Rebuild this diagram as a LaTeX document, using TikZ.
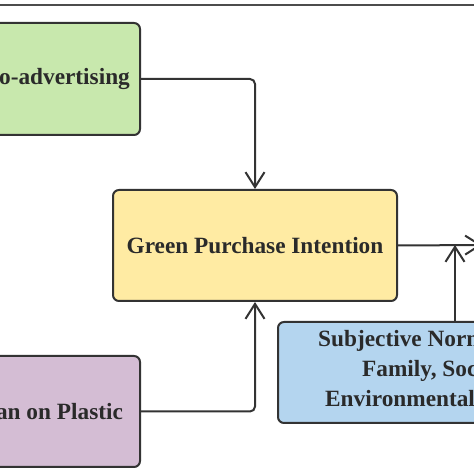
\documentclass[tikz,border=0pt]{standalone}
\usepackage{fontspec}
\setmainfont{Liberation Serif}
\usetikzlibrary{arrows.meta}
\definecolor{boxline}{HTML}{333333}
\definecolor{greenfill}{HTML}{C8E8AD}
\definecolor{yellowfill}{HTML}{FFEBA3}
\definecolor{purplefill}{HTML}{D4BDD4}
\definecolor{bluefill}{HTML}{B4D5EF}
\definecolor{txt}{HTML}{2A2A2A}
\tikzset{
  box/.style={draw=boxline, line width=2pt, rounded corners=6pt, inner sep=0pt,
    font=\fontsize{23.3}{30}\selectfont\bfseries, text=txt},
  lbl/.style={inner sep=0pt, anchor=base west, font=\fontsize{23.3}{30}\selectfont\bfseries, text=txt},
  conn/.style={draw=boxline, line width=2pt, rounded corners=5pt,
    -{Straight Barb[length=15pt,width=19pt,line width=2pt]}},
}
\begin{document}
\begin{tikzpicture}[x=1pt,y=1pt]
\useasboundingbox (0,0) rectangle (474,474);
\clip (0,0) rectangle (474,474);
\draw[line width=2.5pt, draw=black!70] (-5,469) -- (480,469);
% boxes (y = 474 - image y)
\node[box, fill=greenfill, minimum width=151pt, minimum height=112pt] (eco) at (64.5,395) {o-advertising};
\node[box, fill=yellowfill, minimum width=284pt, minimum height=111pt] (gpi) at (255,228.5) {Green Purchase Intention};
\node[box, fill=purplefill, minimum width=161pt, minimum height=111pt] (ban) at (59.5,62.5) {an on Plastic};
\node[box, fill=bluefill, minimum width=260pt, minimum height=101pt] (sn) at (408,101.5) {};
\node[lbl] (sn1) at (318,127) {Subjective Norm};
\node[lbl] (sn2) at (362,97) {Family, Soc};
\node[lbl] (sn3) at (325,67) {Environmental};
% connectors
\coordinate (out) at (482,229);
\draw[conn] (eco.east) -| (gpi.north);
\draw[conn] (ban.east) -| (gpi.south);
\draw[conn] (gpi.east) -- (out);
\draw[conn] (sn.north -| 455,0) -- (455,229);
\end{tikzpicture}
\end{document}
